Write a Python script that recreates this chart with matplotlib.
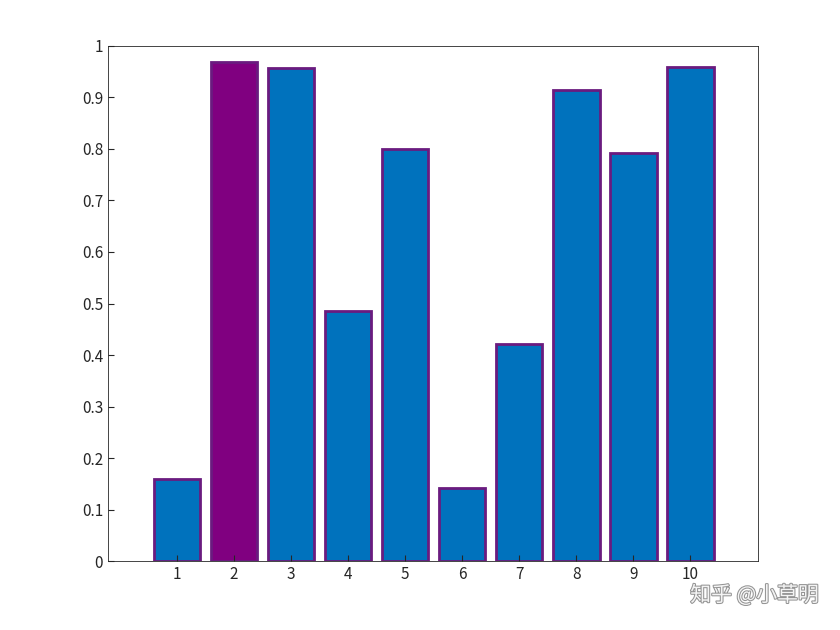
import matplotlib
matplotlib.use('Agg')
import matplotlib.pyplot as plt
import matplotlib.patheffects as pe

plt.rcParams['font.family'] = ['Noto Sans CJK SC', 'DejaVu Sans']

positions = [1, 2, 3, 4, 5, 6, 7, 8, 9, 10]
values = [0.159, 0.969, 0.957, 0.485, 0.800, 0.142, 0.421, 0.915, 0.792, 0.959]
yticks = [0, 0.1, 0.2, 0.3, 0.4, 0.5, 0.6, 0.7, 0.8, 0.9, 1]

fig = plt.figure(figsize=(8.4, 6.3), dpi=100)
ax = fig.add_axes([0.1286, 0.1095, 0.7738, 0.8175])

colors = ['#0072BD'] * len(values)
colors[1] = '#800080'
ax.bar(positions, values, width=0.82, color=colors, edgecolor='#6A1B7F', linewidth=2)

ax.set_xlim(-0.21, 11.19)
ax.set_ylim(0, 1)
ax.set_xticks(positions)
ax.set_yticks(yticks)
ax.set_yticklabels([f'{t:g}' for t in yticks])
ax.tick_params(direction='in', labelsize=11, colors='#262626', length=4)
for s in ax.spines.values():
    s.set_color('#262626')
    s.set_linewidth(0.6)

fig.text(0.975, 0.055, '知乎 @小草明', ha='right', va='center', fontsize=15,
         color='white', alpha=0.9,
         path_effects=[pe.withStroke(linewidth=1.5, foreground='#888888')])

fig.savefig('out.png')
